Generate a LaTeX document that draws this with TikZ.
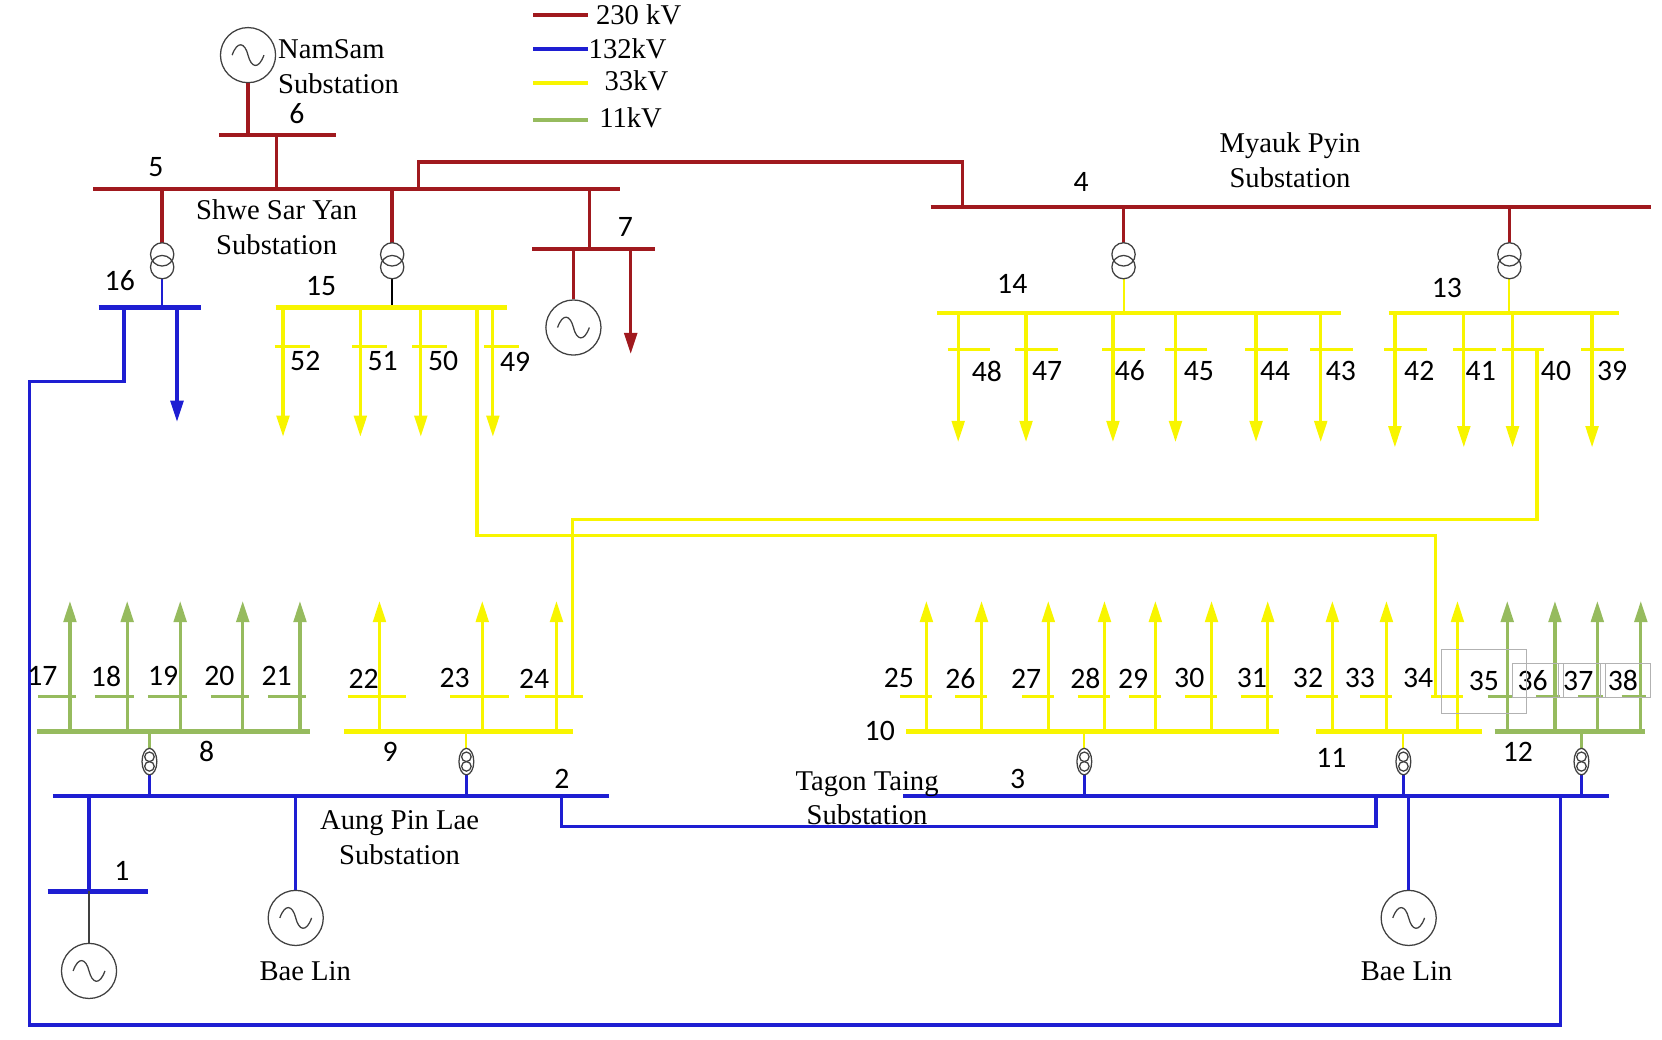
\documentclass[tikz,border=0pt]{standalone}
\usepackage{fontspec}
\setmainfont{Liberation Serif}
\newfontfamily\numf{Carlito}
\usetikzlibrary{arrows.meta}
\definecolor{cR}{HTML}{A0191E}
\definecolor{cB}{HTML}{1E1ED2}
\definecolor{cY}{HTML}{F8F500}
\definecolor{cG}{HTML}{96BB5E}
\tikzset{
 busR/.style={cR,line width=2pt},
 busB/.style={cB,line width=2pt},
 busY/.style={cY,line width=2pt},
 busG/.style={cG,line width=2pt},
 lnR/.style={cR,line width=1.6pt},
 lnB/.style={cB,line width=1.6pt},
 lnY/.style={cY,line width=1.5pt},
 lnG/.style={cG,line width=1.5pt},
 tip/.style={-{Triangle[width=6pt,length=10pt]}},
 num/.style={font=\numf\fontsize{14}{16}\selectfont,inner sep=0pt},
 lbl/.style={font=\fontsize{13.5}{16.5}\selectfont,inner sep=0pt,align=center},
 gen/.style={draw=black!75,line width=0.6pt,circle,minimum size=26pt,inner sep=0pt},
 xf/.style={draw=black!75,line width=0.6pt}
}
\newcommand\gensym[3]{\node[gen] (#1) at (#2,#3) {}; \draw[black!75,line width=0.6pt] (#2-15,#3) .. controls (#2-10,#3-14) and (#2-3,#3-12) .. (#2,#3) .. controls (#2+3,#3+12) and (#2+10,#3+14) .. (#2+15,#3);}
\begin{document}
\begin{tikzpicture}[x=0.5pt,y=-0.5pt]
\useasboundingbox (0,0) rectangle (1568,981);
% legend
\draw[busR] (503,14)--(555,14); \node[lbl,anchor=west] (lg1) at (562,14) {230 kV};
\draw[busB] (503,46)--(555,46); \node[lbl,anchor=west] (lg2) at (555,46) {132kV};
\draw[busY] (503,78)--(555,78); \node[lbl,anchor=west] (lg3) at (570,76) {33kV};
\draw[busG] (503,113)--(555,113); \node[lbl,anchor=west] (lg4) at (565,111) {11kV};
% NamSam
\gensym{gNS}{234}{52}
\draw[lnR] (gNS.south)--(234,127);
\node[lbl,anchor=west,align=left] (tNS) at (262,63) {NamSam\\Substation};
\draw[busR] (207,127)--(317,127); \node[num] (n6) at (280,107) {6};
\draw[lnR] (261,127)--(261,178);
% bus 5
\draw[busR] (88,178)--(585,178); \node[num] (n5) at (147,158) {5};
\node[lbl] (tSSY) at (261,214) {Shwe Sar Yan\\Substation};
\draw[lnR] (395,178)--(395,153)--(908,153)--(908,195);
% bus 4
\draw[busR] (878,195)--(1558,195); \node[num] (n4) at (1020,172) {4};
\node[lbl] (tMP) at (1217,151) {Myauk Pyin\\Substation};
% transformers top
\foreach \x/\ya/\yb/\c in {153/178/290/cB,370/178/290/black,1060/195/295/cY,1424/195/295/cY}{
  \draw[lnR] (\x,\ya)--(\x,229);
  \draw[\c,line width=0.9pt] (\x,263)--(\x,\yb);
  \draw[xf,fill=white] (\x,240) circle (11);
  \draw[xf] (\x,252) circle (11);
}
% bus 16
\draw[busB] (93,290)--(190,290); \node[num] (n16) at (113,265) {16};
\draw[lnB,tip] (167,290)--(167,398);
\draw[lnB] (117,290)--(117,360)--(28,360)--(28,967)--(1472,967)--(1472,751);
% bus 15
\draw[busY] (260,290)--(478,290); \node[num] (n15) at (303,270) {15};
\foreach \x/\t in {267/52,340/51,397/50,465/49}{
  \draw[lnY,tip] (\x,290)--(\x,412);
  \draw[lnY] (\x-8,327)--(\x+25,327);
  \node[num] (l\t) at (\x+21,341) {\t};
}
\draw[lnY] (450,290)--(450,505)--(1354,505)--(1354,657);
% bus 7
\draw[lnR] (556,178)--(556,235);
\draw[busR] (502,235)--(618,235); \node[num] (n7) at (590,214) {7};
\gensym{g7}{541}{309}
\draw[lnR] (541,235)--(g7.north);
\draw[lnR,tip] (595,235)--(595,334);
% bus 14
\draw[busY] (884,295)--(1265,295); \node[num] (n14) at (955,268) {14};
\foreach \x/\t/\lx in {904/48/931,968/47/988,1050/46/1066,1109/45/1131,1185/44/1203,1246/43/1265}{
  \draw[lnY,tip] (\x,295)--(\x,417);
  \draw[lnY] (\x-10,330)--(\x+30,330);
  \node[num] (l\t) at (\lx,350) {\t};
}
% bus 13
\draw[busY] (1310,295)--(1527,295); \node[num] (n13) at (1365,272) {13};
\foreach \x/\t/\lx in {1316/42/1339,1381/41/1397,1427/40/1468,1502/39/1521}{
  \draw[lnY,tip] (\x,295)--(\x,422);
  \draw[lnY] (\x-10,330)--(\x+30,330);
  \node[num] (l\t) at (\lx,350) {\t};
}
\draw[lnY] (1450,330)--(1450,490)--(540,490)--(540,657);
% bus 2
\draw[busB] (50,751)--(575,751); \node[num] (n2) at (530,735) {2};
\node[lbl] (tAPL) at (377,790) {Aung Pin Lae\\Substation};
\draw[busB] (45,841)--(140,841); \node[num] (n1) at (115,822) {1};
\gensym{g1}{84}{916}
\draw[lnB] (84,751)--(84,841);
\draw[black!75,line width=0.8pt] (84,841)--(g1.north);
\gensym{g2}{279}{866}
\draw[lnB] (279,751)--(g2.north);
\node[lbl] (tBL1) at (288,916) {Bae Lin};
\draw[lnB] (530,751)--(530,780)--(1298,780)--(1298,751);
% bus 3
\draw[busB] (852,751)--(1518,751); \node[num] (n3) at (960,735) {3};
\node[lbl] (tTT) at (818,753) {Tagon Taing\\Substation};
\gensym{g3}{1329}{866}
\draw[lnB] (1329,751)--(g3.north);
\node[lbl] (tBL2) at (1327,916) {Bae Lin};
% small transformers bottom
\foreach \x/\c in {141/cG,440/cY,1023/cY,1324/cY,1492/cG}{
  \draw[\c,line width=1pt] (\x,690)--(\x,706);
  \draw[lnB] (\x,731)--(\x,751);
  \draw[xf,fill=white] (\x,718.5) ellipse (7 and 12.5);
  \draw[xf] (\x,714) circle (4.5);
  \draw[xf] (\x,723) circle (4.5);
}
% bus 8
\draw[busG] (35,690)--(292,690); \node[num] (n8) at (195,709) {8};
\foreach \x/\t/\lx in {66/17/40,120/18/100,170/19/154,229/20/207,283/21/261}{
  \draw[lnG,tip] (\x,690)--(\x,567);
  \draw[lnG] (\x-30,657)--(\x+6,657);
  \node[num] (l\t) at (\lx,638) {\t};
}
% bus 9
\draw[busY] (325,690)--(541,690); \node[num] (n9) at (368,709) {9};
\foreach \x/\t/\lx in {358/22/343,455/23/429,525/24/504}{
  \draw[lnY,tip] (\x,690)--(\x,567);
  \draw[lnY] (\x-30,657)--(\x+25,657);
  \node[num] (l\t) at (\lx,640) {\t};
}
% bus 10
\draw[busY] (855,690)--(1207,690); \node[num] (n10) at (830,690) {10};
\foreach \x/\t/\lx in {874/25/848,926/26/906,989/27/968,1042/28/1024,1090/29/1069,1143/30/1122,1196/31/1181}{
  \draw[lnY,tip] (\x,690)--(\x,567);
  \draw[lnY] (\x-25,657)--(\x+5,657);
  \node[num] (l\t) at (\lx,640) {\t};
}
% bus 11
\draw[busY] (1242,690)--(1398,690); \node[num] (n11) at (1256,715) {11};
\foreach \x/\t/\lx in {1257/32/1234,1308/33/1283,1375/34/1338}{
  \draw[lnY,tip] (\x,690)--(\x,567);
  \draw[lnY] (\x-25,657)--(\x+5,657);
  \node[num] (l\t) at (\lx,640) {\t};
}
% bus 12
\draw[busG] (1410,690)--(1552,690); \node[num] (n12) at (1432,709) {12};
\foreach \x/\t/\lx in {1422/35/1400,1467/36/1446,1507/37/1489,1548/38/1531}{
  \draw[lnG,tip] (\x,690)--(\x,567);
  \draw[lnG] (\x-18,657)--(\x+5,657);
  \node[num] (l\t) at (\lx,642) {\t};
}
\draw[black!30,line width=0.5pt] (1360,613) rectangle (1440,673);
\draw[black!30,line width=0.5pt] (1427,626) rectangle (1475,658);
\draw[black!30,line width=0.5pt] (1470,626) rectangle (1515,658);
\draw[black!30,line width=0.5pt] (1510,626) rectangle (1557,658);
\end{tikzpicture}
\end{document}
